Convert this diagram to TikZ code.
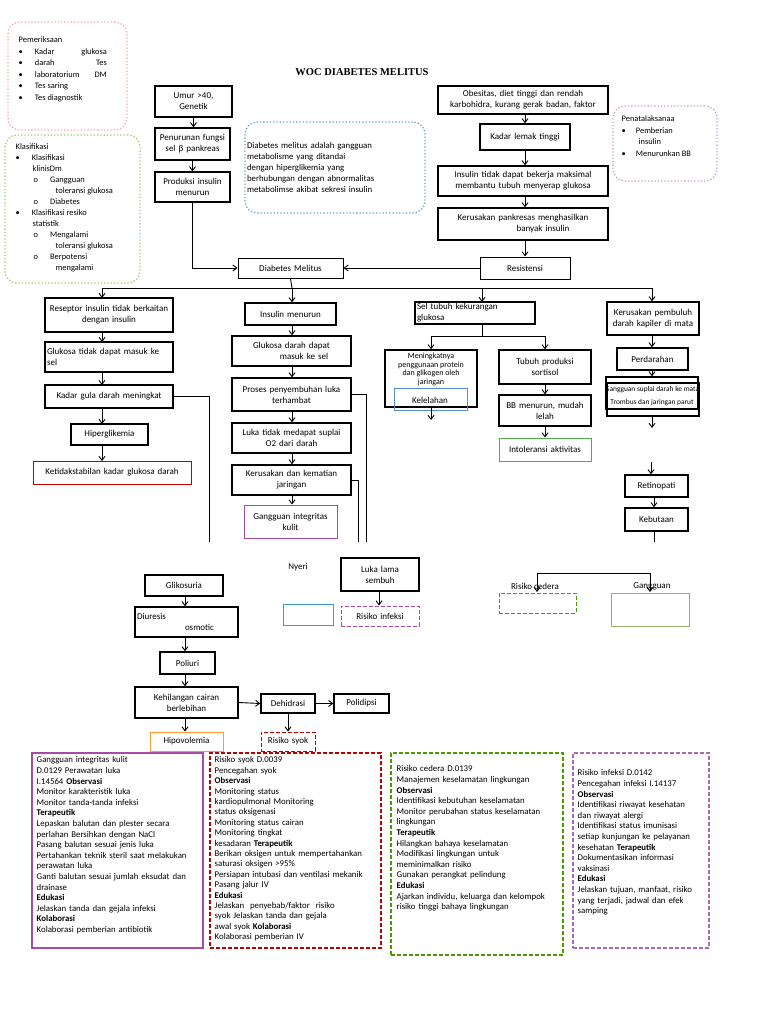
\documentclass[tikz,border=0pt]{standalone}
\usepackage{fontspec}
\setmainfont{Carlito}
\newfontfamily\titlefont{Liberation Serif}
\usetikzlibrary{arrows.meta}
\newcommand{\bx}[7]{\node[#6, minimum width={#4-#2}, minimum height={#5-#3}, text width={#4-#2-4}] (#1) at ({(#2+#4)/2},{(#3+#5)/2}) {#7};}
\begin{document}
\begin{tikzpicture}[x=1pt,y=-1pt,
  every node/.style={font=\fontsize{9}{11}\selectfont, inner sep=1.5pt},
  box/.style={draw, line width=1.4pt, align=center},
  thin/.style={draw, line width=1pt, align=center},
  dsh/.style={dash pattern=on 4pt off 2pt},
  note/.style={draw, rounded corners=12pt, dotted, line width=1.3pt, align=left, anchor=center},
  txt/.style={align=left, font=\fontsize{8.8}{10.6}\selectfont},
  stxt/.style={align=left, font=\fontsize{8.4}{11.6}\selectfont},
  arr/.style={-{Straight Barb[length=4pt,width=6pt]}, line width=0.9pt},
  ln/.style={line width=0.9pt}]
\useasboundingbox (0,0) rectangle (768,1024);
\fill[white] (0,0) rectangle (768,1024);

% side notes
\bx{pem}{8}{22}{127}{130}{note, draw=red!35}{}
\node[stxt, anchor=north west] (pemt) at (17,35) {Pemeriksaan\\
\textbullet\hspace{12pt}\makebox[72pt][s]{Kadar glukosa}\\
\textbullet\hspace{12pt}\makebox[72pt][s]{darah Tes}\\
\textbullet\hspace{12pt}\makebox[72pt][s]{laboratorium DM}\\
\textbullet\hspace{12pt}Tes saring\\
\textbullet\hspace{12pt}Tes diagnostik};
\bx{kla}{5}{135}{140}{283}{note, draw=green!50!yellow!70!black!60}{}
\node[stxt, anchor=north west, font=\fontsize{8.4}{11}\selectfont] (klat) at (14,142) {Klasifikasi\\
\textbullet\hspace{12pt}Klasifikasi\\
\hspace{17pt}klinisDm\\
\hspace{18pt}o\hspace{12pt}Gangguan\\
\hspace{40pt}toleransi glukosa\\
\hspace{18pt}o\hspace{12pt}Diabetes\\
\textbullet\hspace{12pt}Klasifikasi resiko\\
\hspace{17pt}statistik\\
\hspace{18pt}o\hspace{12pt}Mengalami\\
\hspace{40pt}toleransi glukosa\\
\hspace{18pt}o\hspace{12pt}Berpotensi\\
\hspace{40pt}mengalami};
\bx{pen}{613}{106}{717}{181}{note, draw=violet!40}{}
\node[stxt, anchor=north west] (pent) at (620,114) {Penatalaksanaa\\
\textbullet\hspace{10pt}Pemberian\\
\hspace{17pt}insulin\\
\textbullet\hspace{10pt}Menurunkan BB};
\bx{def}{245}{122}{425}{213}{note, draw=cyan!60!blue!60, font=\fontsize{8.8}{11}\selectfont}{Diabetes melitus adalah gangguan\\metabolisme yang ditandai\\dengan hiperglikemia yang\\berhubungan dengan abnormalitas\\metabolimse akibat sekresi insulin}

\node[font=\titlefont\bfseries\fontsize{10.5}{12}\selectfont] (title) at (362,72) {WOC DIABETES MELITUS};

% top left chain
\bx{umur}{155}{86}{232}{117}{box}{Umur >40,\\Genetik}
\bx{penu}{155}{128}{230}{160}{box}{Penurunan fungsi\\sel β pankreas}
\bx{prod}{155}{172}{230}{202}{box}{Produksi insulin\\menurun}
\draw[arr] (umur.south) -- (umur.south |- penu.north);
\draw[arr] (penu.south) -- (penu.south |- prod.north);
% top right chain
\bx{obes}{438}{86}{608}{114}{box}{Obesitas, diet tinggi dan rendah\\karbohidra, kurang gerak badan, faktor}
\bx{lemak}{480}{124}{570}{150}{box}{Kadar lemak tinggi}
\bx{ins}{438}{166}{608}{196}{box}{Insulin tidak dapat bekerja maksimal\\membantu tubuh menyerap glukosa}
\bx{kerp}{438}{208}{608}{240}{box}{Kerusakan pankresas menghasilkan\\\hspace{40pt}banyak insulin}
\bx{res}{480}{257}{570}{279}{thin}{Resistensi}
\draw[arr] (obes.south -| lemak) -- (lemak.north);
\draw[arr] (lemak.south) -- (lemak.south |- ins.north);
\draw[arr] (ins.south -| lemak) -- (lemak |- kerp.north);
\draw[arr] (kerp.south -| lemak) -- (res.north);

\bx{dm}{238}{258}{343}{278}{thin}{Diabetes Melitus}
\draw[arr] (prod.south) |- (dm.west);
\draw[arr] (res.west) -- (dm.east);
\coordinate (bus) at (292,288);
\draw[ln] (dm.south) -- (bus);
\draw[ln] (102,288) -- (652,288);

% left column
\bx{resp}{45}{298}{173}{332}{box}{Reseptor insulin tidak berkaitan\\dengan insulin}
\bx{gluk}{45}{342}{173}{372}{box, align=left}{Glukosa tidak dapat masuk ke\\sel}
\bx{kgd}{45}{385}{173}{408}{box}{Kadar gula darah meningkat}
\bx{hip}{71}{424}{148}{445}{box}{Hiperglikemia}
\bx{ket}{33}{461}{191}{484}{thin, draw=red!75!black}{Ketidakstabilan kadar glukosa darah}
\draw[arr] (102,288) -- (102,298);
\draw[arr] (resp.south -| 102,0) -- (102,342);
\draw[arr] (gluk.south -| 102,0) -- (102,385);
\draw[arr] (kgd.south -| 102,0) -- (102,424);
\draw[arr] (hip.south -| 102,0) -- (102,461);
\coordinate (c1) at (209,542);
\draw[ln] (kgd.east) -| (c1);

% middle column
\bx{imen}{245}{303}{336}{325}{box}{Insulin menurun}
\bx{gdm}{232}{336}{351}{366}{box}{Glukosa darah dapat\\\hspace{25pt}masuk ke sel}
\bx{pros}{232}{378}{351}{411}{box}{Proses penyembuhan luka\\terhambat}
\bx{luka}{232}{423}{351}{453}{box}{Luka tidak medapat suplai\\O2 dari darah}
\bx{kerj}{232}{465}{351}{495}{box}{Kerusakan dan kematian\\jaringan}
\bx{gik}{244}{505}{337}{538}{thin, draw=violet!70}{Gangguan integritas\\kulit}
\draw[arr] (bus) -- (imen.north -| bus);
\draw[arr] (imen.south -| bus) -- (gdm.north -| bus);
\draw[arr] (gdm.south -| bus) -- (pros.north -| bus);
\draw[arr] (pros.south -| bus) -- (luka.north -| bus);
\draw[arr] (luka.south -| bus) -- (kerj.north -| bus);
\draw[arr] (kerj.south -| bus) -- (gik.north -| bus);
\coordinate (c2) at (366,542);
\coordinate (c3) at (358,542);
\draw[ln] (pros.east) -| (c2);
\draw[ln] (kerj.east) -| (c3);

% sel tubuh
\bx{sel}{415}{302}{535}{324}{box, align=left}{Sel tubuh kekurangan\\glukosa}
\draw[arr] (482,288) -- (482,302);
\bx{men}{385}{350}{477}{407}{box}{}
\node[font=\fontsize{8}{8.8}\selectfont, align=center, anchor=north] (ment) at (431,351) {Meningkatnya\\penggunaan protein\\dan glikogen oleh\\jaringan};
\bx{tub}{499}{350}{591}{384}{box}{Tubuh produksi\\sortisol}
\bx{kel}{394}{388}{467}{410}{thin, draw=cyan!50!blue!70}{}
\node (kelt) at (430,400) {Kelelahan};
\draw[ln] (482,324) -- (482,336);
\draw[ln] (431,336) -- (545,336);
\draw[arr] (431,336) -- (men.north);
\draw[arr] (545,336) -- (tub.north);
\coordinate (c4) at (431,420);
\draw[arr] (men.south) -- (c4);
\bx{bb}{499}{395}{591}{426}{box}{BB menurun, mudah\\lelah}
\bx{into}{499}{438}{591}{461}{thin, draw=green!55!black!70}{Intoleransi aktivitas}
\draw[arr] (tub.south) -- (bb.north);
\draw[arr] (bb.south) -- (into.north);

% right column
\bx{kpem}{607}{302}{699}{335}{box}{Kerusakan pembuluh\\darah kapiler di mata}
\bx{perd}{617}{348}{688}{370}{box}{Perdarahan}
\bx{gsup}{606}{377}{698}{409}{box}{}
\bx{trom}{607}{383}{699}{416}{box}{}
\node[font=\fontsize{7.4}{8}\selectfont] (gsupt) at (652,390) {Gangguan suplai darah ke mata};
\node[font=\fontsize{7.4}{8}\selectfont] (tromt) at (652,403) {Trombus dan jaringan parut};
\draw[arr] (652,288) -- (kpem.north -| 652,0);
\draw[arr] (kpem.south -| 652,0) -- (perd.north -| 652,0);
\draw[arr] (perd.south -| 652,0) -- (gsup.north -| 652,0);
\coordinate (c5) at (652,428);
\coordinate (c6) at (651,462);
\draw[arr] (trom.south -| 652,0) -- (c5);
\bx{ret}{625}{475}{688}{497}{box}{Retinopati}
\bx{keb}{625}{508}{688}{531}{box}{Kebutaan}
\draw[arr] (c6) -- (ret.north -| c6);
\draw[arr] (ret.south -| 654,0) -- (keb.north -| 654,0);
\coordinate (c7) at (654,542);
\draw[ln] (keb.south -| c7) -- (c7);

% lower part
\node (nyeri) at (298,567) {Nyeri};
\bx{lls}{341}{558}{419}{591}{box}{Luka lama\\sembuh}
\bx{rinf}{341}{606}{419}{626}{thin, dsh, draw=violet!70}{Risiko infeksi}
\draw[arr] (lls.south -| 379,0) -- (rinf.north -| 379,0);
\bx{cyan}{283}{604}{333}{625}{thin, draw=cyan!70!blue!80}{}

\bx{gli}{145}{575}{223}{596}{box}{Glikosuria}
\bx{diu}{135}{607}{238}{637}{box, align=left}{Diuresis\\\hspace{48pt}osmotic}
\bx{pol}{160}{652}{215}{674}{box}{Poliuri}
\bx{keh}{135}{687}{238}{718}{box}{Kehilangan cairan\\berlebihan}
\bx{deh}{261}{694}{315}{713}{box}{Dehidrasi}
\bx{pold}{334}{694}{389}{713}{box}{Polidipsi}
\bx{hipo}{150}{732}{223}{751}{thin, draw=orange!80}{Hipovolemia}
\bx{rsy}{261}{732}{315}{751}{thin, dsh, draw=red!75!black}{Risiko syok}
\draw[arr] (gli.south -| 185,0) -- (diu.north -| 185,0);
\draw[arr] (diu.south -| 185,0) -- (pol.north -| 185,0);
\draw[arr] (pol.south -| 185,0) -- (keh.north -| 185,0);
\draw[arr] (keh.south -| 185,0) -- (hipo.north -| 185,0);
\draw[arr] (keh.east) -- (deh.west);
\draw[arr] (deh.east) -- (pold.west);
\draw[arr] (deh.south) -- (rsy.north);

\bx{rced}{499}{593}{576}{613}{thin, dsh, draw=green!50!yellow!60!black}{}
\bx{gang}{611}{593}{689}{626}{thin, draw=green!40!yellow!50!black!60}{}
\node (rcedt) at (535,586) {Risiko cedera};
\node (gangt) at (652,586) {Gangguan};
\draw[ln] (537,573) -- (650,573);
\draw[arr] (537,573) -- (537,592);
\draw[arr] (650,573) -- (650,592);

% bottom boxes
\bx{b1}{32}{753}{203}{948}{draw=violet!70, line width=1.2pt}{}
\node[txt, anchor=north west, text width=168pt] (b1t) at (35,755) {Gangguan integritas kulit\\
D.0129 Perawatan luka\\
I.14564 \textbf{Observasi}\\
Monitor karakteristik luka\\
Monitor tanda-tanda infeksi\\
\textbf{Terapeutik}\\
Lepaskan balutan dan plester secara\\
perlahan Bersihkan dengan NaCl\\
Pasang balutan sesuai jenis luka\\
Pertahankan teknik steril saat melakukan\\
perawatan luka\\
Ganti balutan sesuai jumlah eksudat dan\\
drainase\\
\textbf{Edukasi}\\
Jelaskan tanda dan gejala infeksi\\
\textbf{Kolaborasi}\\
Kolaborasi pemberian antibiotik};
\bx{b2}{210}{753}{381}{948}{draw=red!75!black, dsh, line width=1.2pt}{}
\node[txt, anchor=north west, text width=168pt, font=\fontsize{8.8}{10.4}\selectfont] (b2t) at (213,755) {Risiko syok D.0039\\
Pencegahan syok\\
\textbf{Observasi}\\
Monitoring status\\
kardiopulmonal Monitoring\\
status oksigenasi\\
Monitoring status cairan\\
Monitoring tingkat\\
kesadaran \textbf{Terapeutik}\\
Berikan oksigen untuk mempertahankan\\
saturasi oksigen >95\%\\
Persiapan intubasi dan ventilasi mekanik\\
Pasang jalur IV\\
\textbf{Edukasi}\\
Jelaskan\ \ penyebab/faktor\ \ risiko\\
syok Jelaskan tanda dan gejala\\
awal syok \textbf{Kolaborasi}\\
Kolaborasi pemberian IV};
\bx{b3}{391}{753}{563}{955}{draw=green!50!yellow!60!black, dsh, line width=1.2pt}{}
\node[txt, anchor=north west, text width=168pt] (b3t) at (395,764) {Risiko cedera D.0139\\
Manajemen keselamatan lingkungan\\
\textbf{Observasi}\\
Identifikasi kebutuhan keselamatan\\
Monitor perubahan status keselamatan\\
lingkungan\\
\textbf{Terapeutik}\\
Hilangkan bahaya keselamatan\\
Modifikasi lingkungan untuk\\
meminimalkan risiko\\
Gunakan perangkat pelindung\\
\textbf{Edukasi}\\
Ajarkan individu, keluarga dan kelompok\\
risiko tinggi bahaya lingkungan};
\bx{b4}{573}{753}{709}{948}{draw=violet!60, dsh, line width=1.2pt}{}
\node[txt, anchor=north west, text width=134pt] (b4t) at (576,768) {Risiko infeksi D.0142\\
Pencegahan infeksi I.14137\\
\textbf{Observasi}\\
Identifikasi riwayat kesehatan\\
dan riwayat alergi\\
Identifikasi status imunisasi\\
setiap kunjungan ke pelayanan\\
kesehatan \textbf{Terapeutik}\\
Dokumentasikan informasi\\
vaksinasi\\
\textbf{Edukasi}\\
Jelaskan tujuan, manfaat, risiko\\
yang terjadi, jadwal dan efek\\
samping};
\end{tikzpicture}
\end{document}
